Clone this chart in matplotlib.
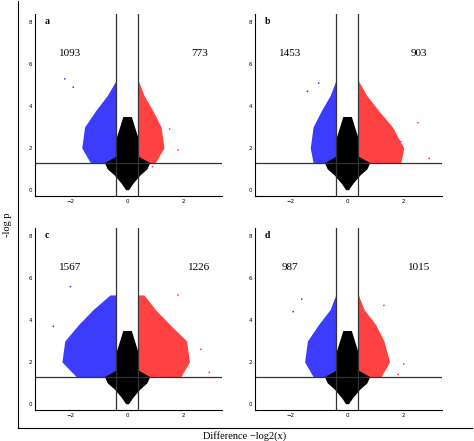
import numpy as np
import matplotlib.pyplot as plt

W, H = 474, 441
panels = ["a", "b", "c", "d"]
counts = {"a": (1093, 773), "b": (1453, 903), "c": (1567, 1226), "d": (987, 1015)}
# envelope levels (-log p) and outer x extents
levels = [1.3, 2.0, 3.0, 3.8, 4.5, 5.2]
blue_left = {"a": [-1.3, -1.6, -1.5, -1.1, -0.7, -0.4],
             "b": [-1.2, -1.3, -1.2, -0.9, -0.6, -0.4],
             "c": [-1.8, -2.3, -2.2, -1.7, -1.2, -0.6],
             "d": [-1.2, -1.5, -1.4, -1.0, -0.6, -0.4]}
red_right = {"a": [1.0, 1.3, 1.2, 0.9, 0.6, 0.4],
             "b": [1.9, 2.0, 1.6, 1.1, 0.7, 0.4],
             "c": [1.9, 2.2, 2.1, 1.5, 1.0, 0.6],
             "d": [1.2, 1.5, 1.3, 1.0, 0.6, 0.4]}
black_y = [0.0, 0.3, 0.7, 1.0, 1.3, 1.6, 2.5, 3.5]
black_half = [0.05, 0.2, 0.45, 0.7, 0.8, 0.4, 0.38, 0.15]
outliers = {"a": ([-2.2, -1.9, 1.2, 1.8, 1.5, 0.9], [5.3, 4.9, 2.2, 1.9, 2.9, 1.1]),
            "b": ([-1.4, 1.9, 2.5, 2.9, -1.0], [4.7, 2.3, 3.2, 1.5, 5.1]),
            "c": ([-2.6, 2.6, 2.9, -2.0, 1.8], [3.7, 2.6, 1.5, 5.6, 5.2]),
            "d": ([-1.9, 2.0, 1.8, 1.3, -1.6], [4.4, 1.9, 1.4, 4.7, 5.0])}

fig = plt.figure(figsize=(W / 100, H / 100), dpi=100)
frame = fig.add_axes([18 / W, 1 - 428 / H, 454 / W, 427 / H])
frame.set_xticks([]); frame.set_yticks([])
for s in ["top", "right"]:
    frame.spines[s].set_visible(False)
frame.patch.set_alpha(0)
fig.text(245 / W, 1 - 436 / H, "Difference \u2212log2(x)", ha="center", va="center",
         family="Liberation Serif", fontsize=7.5)
fig.text(7 / W, 1 - 225 / H, "-log p", ha="center", va="center", rotation=90,
         family="Liberation Serif", fontsize=7.5)

boxes = {"a": (35, 14), "b": (255, 14), "c": (35, 228), "d": (255, 228)}
for p in panels:
    x0, y0 = boxes[p]
    ax = fig.add_axes([x0 / W, 1 - (y0 + 182) / H, 187 / W, 182 / H])
    ax.set_xlim(-3.25, 3.35); ax.set_ylim(-0.3, 8.4)
    for s in ax.spines.values():
        s.set_visible(False)
    ax.spines["left"].set_visible(True); ax.spines["bottom"].set_visible(True)
    ax.set_xticks([-2, 0, 2]); ax.set_yticks([0, 2, 4, 6, 8])
    ax.tick_params(labelsize=4, length=0, pad=2)
    ax.fill_betweenx(levels, blue_left[p], -0.38, color="#1a1aff", alpha=0.85, lw=0)
    ax.fill_betweenx(levels, 0.38, red_right[p], color="#ff2020", alpha=0.85, lw=0)
    ax.fill_betweenx(black_y, [-h for h in black_half], black_half, color="black", lw=0)
    ox, oy = outliers[p]
    ax.scatter(ox, oy, s=1.5, c=["#3030ff" if v < 0 else "#ff3030" for v in ox], lw=0)
    ax.axvline(-0.4, color="#333", lw=0.9)
    ax.axvline(0.4, color="#333", lw=0.9)
    ax.axhline(1.3, color="#333", lw=0.9)
    ax.text(-2.9, 7.9, p, fontsize=7, fontweight="bold", family="Liberation Serif")
    l, r = counts[p]
    ax.text(-2.0, 6.4, str(l), fontsize=8, family="Liberation Serif", ha="center")
    ax.text(2.55, 6.4, str(r), fontsize=8, family="Liberation Serif", ha="center")

fig.savefig("out.png", dpi=100)
